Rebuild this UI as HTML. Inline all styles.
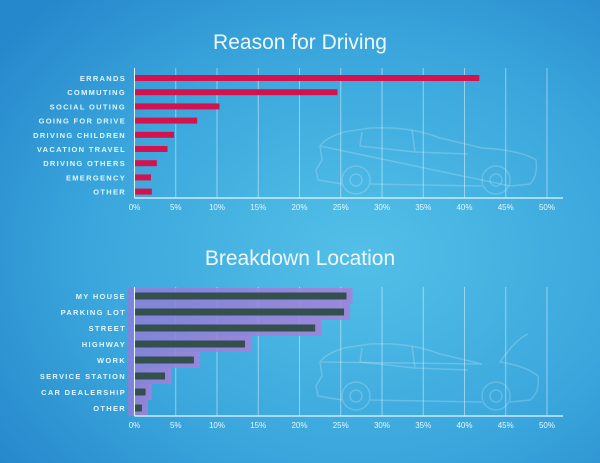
<!DOCTYPE html>
<html><head><meta charset="utf-8"><style>
body{margin:0;width:600px;height:463px;overflow:hidden;}
svg{display:block}
text{font-family:"Liberation Sans",sans-serif}
</style></head><body>
<svg width="600" height="463">
<defs>
<radialGradient id="bg" cx="0.6" cy="0.55" r="0.75">
<stop offset="0" stop-color="#53c0e8"/><stop offset="0.6" stop-color="#3aa6dc"/><stop offset="1" stop-color="#2688cc"/>
</radialGradient>
<linearGradient id="pur" x1="0" x2="1"><stop offset="0" stop-color="#8a7fd8"/><stop offset="1" stop-color="#a77fd8"/></linearGradient>
</defs>
<rect width="600" height="463" fill="url(#bg)"/>
<g id="car1" fill="none" stroke="#ffffff" stroke-opacity="0.2" stroke-width="1.5">
<path d="M320,146 L322,160 L316,170 L318,180 L342,184 M370,184 L482,186 M510,186 L530,184 Q538,176 536,160 Q520,150 482,148 L440,138 Q410,126 370,128 L344,132 Q325,138 320,146 Z"/>
<path d="M362,132 L360,146 L415,152 L412,130 M415,152 L468,154"/>
<circle cx="356" cy="180" r="14"/><circle cx="356" cy="180" r="6"/>
<circle cx="496" cy="180" r="14"/><circle cx="496" cy="180" r="6"/>
</g>
<g id="car2" fill="none" stroke="#ffffff" stroke-opacity="0.2" stroke-width="1.5">
<path d="M320,362 L322,376 L316,386 L318,396 L342,400 M370,400 L482,402 M510,402 L530,400 Q540,392 538,376 Q526,366 500,362 Q515,340 528,334 M482,364 L440,354 Q410,342 370,344 L344,348 Q325,354 320,362 Z"/>
<path d="M362,348 L360,362 L415,368 L412,346 M415,368 L468,370"/>
<circle cx="356" cy="396" r="14"/><circle cx="356" cy="396" r="6"/>
<circle cx="496" cy="396" r="14"/><circle cx="496" cy="396" r="6"/>
</g>
<text x="300" y="49" text-anchor="middle" font-size="21" fill="#eef9ff">Reason for Driving</text>
<text x="300" y="265" text-anchor="middle" font-size="21" fill="#eef9ff">Breakdown Location</text>
<g id="c1"></g><g id="c2"></g>
</svg>
<script>
const cats1=["ERRANDS","COMMUTING","SOCIAL OUTING","GOING FOR DRIVE","DRIVING CHILDREN","VACATION TRAVEL","DRIVING OTHERS","EMERGENCY","OTHER"];
const vals1=[41.8,24.6,10.3,7.6,4.8,4.0,2.7,2.0,2.1];
const cats2=["MY HOUSE","PARKING LOT","STREET","HIGHWAY","WORK","SERVICE STATION","CAR DEALERSHIP","OTHER"];
const vals2=[25.7,25.4,21.9,13.4,7.2,3.7,1.35,0.9];
const ticks=[0,5,10,15,20,25,30,35,40,45,50];
const NS="http://www.w3.org/2000/svg";
function el(p,t,a){const e=document.createElementNS(NS,t);for(const k in a)e.setAttribute(k,a[k]);p.appendChild(e);return e;}
const x0=134.5,pp=8.25;
function X(v){return x0+v*pp;}
function chart(g,cats,vals,y0,step,top,axisY,bh,color,purple,id){
  ticks.forEach(t=>{
    const l=el(g,"line",{x1:X(t),x2:X(t),y1:top,y2:axisY,stroke:"#ffffff","stroke-opacity":0.45,"stroke-width":1});
    
    
    const tx=el(g,"text",{x:X(t),y:axisY+12,"text-anchor":"middle","font-size":8,fill:"#e6f7ff"});
    tx.textContent=t+"%";
    
    
  });
  cats.forEach((c,i)=>{
    const y=y0+i*step;
    if(purple){
      const p=el(g,"rect",{x:128,y:y-step/2,width:X(vals[i])+6-128,height:step,fill:"url(#pur)","fill-opacity":0.85});
      
      
    }
    const r=el(g,"rect",{x:x0,y:y-bh/2,width:X(vals[i])-x0,height:bh,fill:color});
    
    
    const t=el(g,"text",{x:126,y:y+3,"text-anchor":"end","font-size":7.5,"font-weight":"bold","letter-spacing":"1.3",fill:"#dff6ff"});
    t.textContent=c;
    
    
  });
  const a=el(g,"line",{x1:x0,x2:563,y1:axisY,y2:axisY,stroke:"#e8f8ff","stroke-width":1.2});
  
  
  const ay=el(g,"line",{x1:x0,x2:x0,y1:top,y2:axisY,stroke:"#e8f8ff","stroke-width":1});
  
  
}
chart(document.getElementById("c1"),cats1,vals1,78,14.2,68,198,6,"#d4124e",false,1);
chart(document.getElementById("c2"),cats2,vals2,296,16,287,416,7,"#34504e",true,2);
</script>
</body></html>
